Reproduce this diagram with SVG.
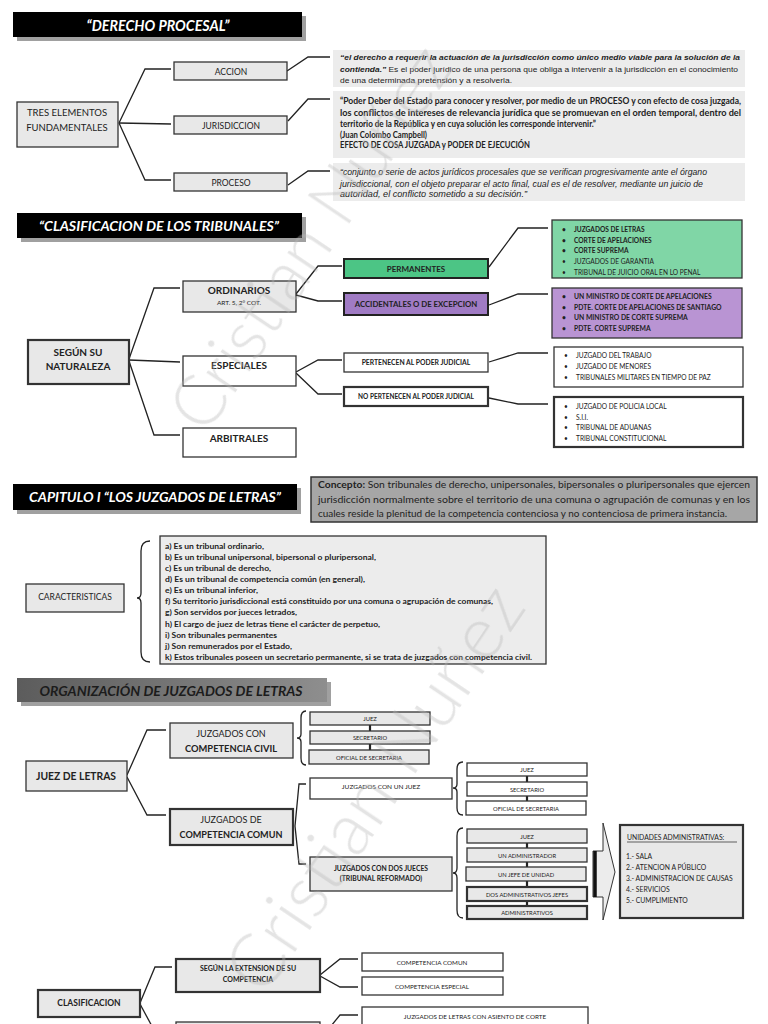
<svg xmlns="http://www.w3.org/2000/svg" width="768" height="1024" viewBox="0 0 768 1024">
<defs>
<style>
.box{fill:#e8e8e8;stroke:#333;stroke-width:1.3}
.boxw{fill:#fff;stroke:#333;stroke-width:1.3}
.thick{stroke-width:2.2}
.note{fill:#ececec;stroke:none}
.sh{fill:#a0a0a0}
.bar{fill:#000}
.t{font-family:Lato,"Open Sans",sans-serif;fill:#222}
.a{font-family:"Liberation Sans",Arial,sans-serif;fill:#222}
.b{font-weight:bold}
.i{font-style:italic}
.c{text-anchor:middle}
.ttl{font-family:Lato,"Open Sans",sans-serif;font-weight:bold;font-style:italic;fill:#fff;text-anchor:middle}
#connectors path{fill:none;stroke:#222;stroke-width:1.3}
#connectors .v{stroke-width:2.2}
</style>
<linearGradient id="g4" x1="0" y1="0" x2="1" y2="0">
<stop offset="0" stop-color="#5c5c5c"/>
<stop offset="1" stop-color="#8e8e8e"/>
</linearGradient>
</defs>
<rect width="768" height="1024" fill="#fff"/>

<!-- titles -->
<g id="title1">
<rect class="sh" x="17" y="16" width="289" height="25"/>
<rect class="bar" x="13" y="12" width="289" height="25"/>
<text class="ttl" x="158" y="30.5" font-size="15" textLength="143" lengthAdjust="spacingAndGlyphs">“DERECHO PROCESAL”</text>
</g>
<g id="title2">
<rect class="sh" x="21" y="217" width="285" height="25"/>
<rect class="bar" x="17" y="213" width="285" height="25"/>
<text class="ttl" x="159" y="231" font-size="14" textLength="240" lengthAdjust="spacingAndGlyphs">“CLASIFICACION DE LOS TRIBUNALES”</text>
</g>
<g id="title3">
<rect class="sh" x="17" y="488" width="284" height="26"/>
<rect class="bar" x="13" y="484" width="284" height="26"/>
<text class="ttl" x="155" y="502" font-size="14" textLength="252" lengthAdjust="spacingAndGlyphs">CAPITULO I “LOS JUZGADOS DE LETRAS”</text>
</g>
<g id="title4">
<rect class="sh" x="21" y="682" width="310" height="24"/>
<rect x="17" y="678" width="310" height="24" fill="url(#g4)"/>
<text class="ttl" x="171" y="696" font-size="14" style="fill:#1c1c1c" textLength="263" lengthAdjust="spacingAndGlyphs">ORGANIZACIÓN DE JUZGADOS DE LETRAS</text>
</g>

<!-- connectors -->
<g id="connectors">
<path d="M119,123 L145,69 L171,69"/>
<path d="M119,123 L171,124"/>
<path d="M119,123 L145,180 L171,180"/>
<path d="M287,71 L308,57 L330,57"/>
<path d="M288,121 L308,99 L330,99"/>
<path d="M288,185 L308,171 L330,171"/>
<path d="M129,359 L154,288 L180,288"/>
<path d="M129,360 L180,362"/>
<path d="M129,361 L154,435 L180,435"/>
<path d="M296,294 L318,266 L342,266"/>
<path d="M296,295 L318,301 L342,301"/>
<path d="M296,372 L318,360 L342,360"/>
<path d="M296,373 L318,394 L342,394"/>
<path d="M489,267 L518,228 L548,228"/>
<path d="M489,305 L518,294 L548,294"/>
<path d="M489,362 L518,353 L548,353"/>
<path d="M489,398 L518,404 L548,404"/>
<path d="M150,541 Q141,541 141,551 L141,593 Q141,598 137,598 Q141,598 141,603 L141,652 Q141,662 150,662"/>
<path d="M127,775 L147,730 L166,730"/>
<path d="M127,777 L147,815 L166,815"/>
<path d="M306,711 Q301,711 301,718 L301,734 Q301,738 297,738 Q301,738 301,742 L301,758 Q301,765 306,765"/>
<path class="v" d="M370,725 L370,731 M370,744 L370,750"/>
<path d="M306,784 L299,784 L295,826 L299,864 L306,864"/>
<path d="M463,762 Q457,762 457,769 L457,784 Q457,788 453,788 Q457,788 457,792 L457,808 Q457,815 463,815"/>
<path d="M463,828 Q457,828 457,836 L457,868 Q457,873 453,873 Q457,873 457,878 L457,910 Q457,918 463,918"/>
<path class="v" d="M527,776 L527,782 M527,796 L527,801"/>
<path class="v" d="M527,843 L527,848 M527,862 L527,867 M527,881 L527,887 M527,901 L527,906"/>
<path d="M140,1003 L155,967 L172,967"/>
<path d="M140,1004 L154,1030"/>
<path d="M320,975 L340,959 L358,959"/>
<path d="M320,976 L340,987 L358,987"/>
<path d="M331,1026 L340,1015 L358,1015"/>
</g>

<!-- section 1 -->
<g id="tres">
<rect class="box" x="17" y="102" width="101" height="45"/>
<text class="t c" x="67" y="116" font-size="9.5">TRES ELEMENTOS</text>
<text class="t c" x="67" y="131" font-size="9.5">FUNDAMENTALES</text>
</g>
<g id="accion">
<rect class="box" x="174" y="62" width="113" height="18"/>
<text class="t c" x="231" y="75" font-size="8.5">ACCION</text>
</g>
<g id="jurisdiccion">
<rect class="box" x="174" y="116" width="113" height="18"/>
<text class="t c" x="231" y="129" font-size="8.5">JURISDICCION</text>
</g>
<g id="proceso">
<rect class="box" x="174" y="173" width="113" height="18"/>
<text class="t c" x="231" y="186" font-size="8.5">PROCESO</text>
</g>
<g id="def-accion">
<rect class="note" x="333" y="50" width="412" height="37"/>
<text class="a i b" x="340" y="60" font-size="8" textLength="400" lengthAdjust="spacingAndGlyphs">“el derecho a requerir la actuación de la jurisdicción como único medio viable para la solución de la</text>
<text class="a" x="340" y="72" font-size="7.8" textLength="398" lengthAdjust="spacingAndGlyphs"><tspan class="i b">contienda.”</tspan> Es el poder jurídico de una persona que obliga a intervenir a la jurisdicción en el conocimiento</text>
<text class="a" x="340" y="83" font-size="7.8" textLength="172" lengthAdjust="spacingAndGlyphs">de una determinada pretensión y a resolverla.</text>
</g>
<g id="def-jurisdiccion">
<rect class="note" x="333" y="91" width="412" height="67"/>
<text class="t b" x="340" y="104" font-size="8.5" textLength="401" lengthAdjust="spacingAndGlyphs">“Poder Deber del Estado para conocer y resolver, por medio de un PROCESO y con efecto de cosa juzgada,</text>
<text class="t b" x="340" y="116" font-size="8.5" textLength="401" lengthAdjust="spacingAndGlyphs">los conflictos de intereses de relevancia jurídica que se promuevan en el orden temporal, dentro del</text>
<text class="t b" x="340" y="127" font-size="8.5" textLength="256" lengthAdjust="spacingAndGlyphs">territorio de la República y en cuya solución les corresponde intervenir.”</text>
<text class="t b" x="340" y="137.5" font-size="8.5" textLength="87" lengthAdjust="spacingAndGlyphs">(Juan Colombo Campbell)</text>
<text class="t b" x="340" y="148" font-size="8.5" textLength="190" lengthAdjust="spacingAndGlyphs">EFECTO DE COSA JUZGADA y  PODER DE EJECUCIÓN</text>
</g>
<g id="def-proceso">
<rect class="note" x="333" y="163" width="412" height="38"/>
<text class="a i" x="340" y="175" font-size="8.5" textLength="367" lengthAdjust="spacingAndGlyphs">“conjunto o serie de actos jurídicos procesales que se verifican progresivamente ante el órgano</text>
<text class="a i" x="340" y="187" font-size="9" fill="#111" textLength="363" lengthAdjust="spacingAndGlyphs">jurisdiccional, con el objeto preparar el acto final, cual es el de resolver, mediante un juicio de</text>
<text class="a i" x="340" y="197" font-size="8.5" textLength="187" lengthAdjust="spacingAndGlyphs">autoridad, el conflicto sometido a su decisión.”</text>
</g>

<!-- section 2 -->
<g id="naturaleza">
<rect class="box thick" x="28" y="340" width="101" height="44"/>
<text class="t b c" x="78" y="356" font-size="10">SEGÚN SU</text>
<text class="t b c" x="78" y="370" font-size="10">NATURALEZA</text>
</g>
<g id="ordinarios">
<rect class="box" x="183" y="281" width="113" height="31"/>
<text class="t b c" x="239" y="294" font-size="10">ORDINARIOS</text>
<text class="t c" x="239" y="305" font-size="6.5">ART. 5, 2° COT.</text>
</g>
<g id="especiales">
<rect class="boxw" x="183" y="356" width="113" height="30"/>
<text class="t b c" x="239" y="369" font-size="10">ESPECIALES</text>
</g>
<g id="arbitrales">
<rect class="boxw" x="183" y="428" width="113" height="29"/>
<text class="t b c" x="239" y="442" font-size="10">ARBITRALES</text>
</g>
<g id="permanentes">
<rect x="344" y="259" width="144" height="19" fill="#4cc585" stroke="#222" stroke-width="2"/>
<text class="t b c" x="416" y="272" font-size="8">PERMANENTES</text>
</g>
<g id="accidentales">
<rect x="344" y="293" width="144" height="22" fill="#a07bc4" stroke="#222" stroke-width="2"/>
<text class="t b c" x="416" y="307" font-size="7.8">ACCIDENTALES O DE EXCEPCION</text>
</g>
<g id="pertenecen">
<rect class="boxw" x="344" y="353" width="144" height="19"/>
<text class="t b c" x="416" y="365" font-size="6.8">PERTENECEN AL PODER JUDICIAL</text>
</g>
<g id="no-pertenecen">
<rect class="boxw thick" x="344" y="387" width="144" height="19"/>
<text class="t b c" x="416" y="399" font-size="6.5">NO PERTENECEN AL PODER JUDICIAL</text>
</g>
<g id="list-permanentes" font-size="6.6">
<rect x="552" y="220" width="190" height="58" fill="#80d6a6" stroke="#333" stroke-width="1.3"/>
<text class="t b" y="232"><tspan x="562">•</tspan><tspan x="574">JUZGADOS DE LETRAS</tspan></text>
<text class="t b" y="242.5"><tspan x="562">•</tspan><tspan x="574">CORTE DE APELACIONES</tspan></text>
<text class="t b" y="253"><tspan x="562">•</tspan><tspan x="574">CORTE SUPREMA</tspan></text>
<text class="t" y="264"><tspan x="562">•</tspan><tspan x="574">JUZGADOS DE GARANTIA</tspan></text>
<text class="t" y="274.5"><tspan x="562">•</tspan><tspan x="574">TRIBUNAL DE JUICIO ORAL EN LO PENAL</tspan></text>
</g>
<g id="list-accidentales" font-size="6.8">
<rect x="552" y="288" width="190" height="50" fill="#b994d3" stroke="#333" stroke-width="1.3"/>
<text class="t b" y="299"><tspan x="562">•</tspan><tspan x="574">UN MINISTRO DE CORTE DE APELACIONES</tspan></text>
<text class="t b" y="309.5"><tspan x="562">•</tspan><tspan x="574">PDTE. CORTE DE APELACIONES DE SANTIAGO</tspan></text>
<text class="t b" y="320"><tspan x="562">•</tspan><tspan x="574">UN MINISTRO DE CORTE SUPREMA</tspan></text>
<text class="t b" y="330.5"><tspan x="562">•</tspan><tspan x="574">PDTE. CORTE SUPREMA</tspan></text>
</g>
<g id="list-pertenecen" font-size="6.6">
<rect class="boxw" x="554" y="347" width="189" height="40"/>
<text class="t" y="357.5"><tspan x="564">•</tspan><tspan x="576">JUZGADO DEL TRABAJO</tspan></text>
<text class="t" y="368.5"><tspan x="564">•</tspan><tspan x="576">JUZGADO DE MENORES</tspan></text>
<text class="t" y="379.5"><tspan x="564">•</tspan><tspan x="576">TRIBUNALES MILITARES EN TIEMPO DE PAZ</tspan></text>
</g>
<g id="list-no-pertenecen" font-size="6.6">
<rect class="boxw thick" x="554" y="397" width="189" height="50"/>
<text class="t" y="409"><tspan x="564">•</tspan><tspan x="576">JUZGADO DE POLICIA LOCAL</tspan></text>
<text class="t" y="419.5"><tspan x="564">•</tspan><tspan x="576">S.I.I.</tspan></text>
<text class="t" y="430"><tspan x="564">•</tspan><tspan x="576">TRIBUNAL DE ADUANAS</tspan></text>
<text class="t" y="440.5"><tspan x="564">•</tspan><tspan x="576">TRIBUNAL CONSTITUCIONAL</tspan></text>
</g>

<!-- section 3 -->
<g id="concepto">
<rect x="311" y="477" width="446" height="45" fill="#a6a6a6" stroke="#333" stroke-width="1.5"/>
<text class="t" x="318" y="488" font-size="9.5" fill="#111" textLength="432" lengthAdjust="spacingAndGlyphs"><tspan class="b">Concepto:</tspan> Son tribunales de derecho, unipersonales, bipersonales o pluripersonales que ejercen</text>
<text class="t" x="318" y="503" font-size="9.5" fill="#111" textLength="432" lengthAdjust="spacingAndGlyphs">jurisdicción normalmente sobre el territorio de una comuna o agrupación de comunas y en los</text>
<text class="t" x="318" y="517" font-size="9.5" fill="#111" textLength="409" lengthAdjust="spacingAndGlyphs">cuales reside la plenitud de la competencia contenciosa y no contenciosa de primera instancia.</text>
</g>
<g id="caracteristicas">
<rect class="box" x="26" y="584" width="98" height="28"/>
<text class="t c" x="75" y="600" font-size="8.5">CARACTERISTICAS</text>
</g>
<g id="lista-caracteristicas" font-size="7.4">
<rect class="box" x="160" y="536" width="386" height="128" style="fill:#ececec"/>
<text class="t b" x="165" y="549" textLength="99" lengthAdjust="spacingAndGlyphs">a) Es un tribunal ordinario,</text>
<text class="t b" x="165" y="560" textLength="211" lengthAdjust="spacingAndGlyphs">b) Es un tribunal unipersonal, bipersonal o pluripersonal,</text>
<text class="t b" x="165" y="571" textLength="106" lengthAdjust="spacingAndGlyphs">c) Es un tribunal de derecho,</text>
<text class="t b" x="165" y="582" textLength="200" lengthAdjust="spacingAndGlyphs">d) Es un tribunal de competencia común (en general),</text>
<text class="t b" x="165" y="593" textLength="93" lengthAdjust="spacingAndGlyphs">e) Es un tribunal inferior,</text>
<text class="t b" x="165" y="604" textLength="328" lengthAdjust="spacingAndGlyphs">f) Su territorio jurisdiccional está constituido por una comuna o agrupación de comunas,</text>
<text class="t b" x="165" y="615" textLength="132" lengthAdjust="spacingAndGlyphs">g) Son servidos por jueces letrados,</text>
<text class="t b" x="165" y="627" textLength="215" lengthAdjust="spacingAndGlyphs">h) El cargo de juez de letras tiene el carácter de perpetuo,</text>
<text class="t b" x="165" y="638" textLength="112" lengthAdjust="spacingAndGlyphs">i) Son tribunales permanentes</text>
<text class="t b" x="165" y="649" textLength="127" lengthAdjust="spacingAndGlyphs">j) Son remunerados por el Estado,</text>
<text class="t b" x="165" y="660" textLength="367" lengthAdjust="spacingAndGlyphs">k) Estos tribunales poseen un secretario permanente, si se trata de juzgados con competencia civil.</text>
</g>

<!-- section 4 -->
<g id="juez-letras">
<rect class="box" x="26" y="761" width="101" height="30"/>
<text class="t b c" x="76" y="780" font-size="11" textLength="80" lengthAdjust="spacingAndGlyphs">JUEZ DE LETRAS</text>
</g>
<g id="civil">
<rect class="box" x="170" y="723" width="123" height="35"/>
<text class="t c" x="231" y="737" font-size="9">JUZGADOS CON</text>
<text class="t b c" x="231" y="752" font-size="9" textLength="92" lengthAdjust="spacingAndGlyphs">COMPETENCIA CIVIL</text>
</g>
<g id="comun">
<rect class="box thick" x="170" y="809" width="123" height="36"/>
<text class="t c" x="231" y="823" font-size="9">JUZGADOS DE</text>
<text class="t b c" x="231" y="838" font-size="9" textLength="103" lengthAdjust="spacingAndGlyphs">COMPETENCIA COMUN</text>
</g>
<g id="civil-juez">
<rect class="box" x="310" y="712" width="120" height="13"/>
<text class="t c" x="370" y="721" font-size="5.8">JUEZ</text>
</g>
<g id="civil-secretario">
<rect class="box" x="310" y="731" width="120" height="13"/>
<text class="t c" x="370" y="740" font-size="5.8">SECRETARIO</text>
</g>
<g id="civil-oficial">
<rect class="box" x="309" y="750" width="120" height="14"/>
<text class="t c" x="369" y="759.5" font-size="5.8">OFICIAL DE SECRETARIA</text>
</g>
<g id="un-juez">
<rect class="boxw" x="310" y="778" width="142" height="21"/>
<text class="t c" x="381" y="789" font-size="6.5">JUZGADOS CON UN JUEZ</text>
</g>
<g id="dos-jueces">
<rect class="box" x="310" y="857" width="142" height="34"/>
<text class="t b c" x="381" y="871" font-size="6.8">JUZGADOS CON DOS JUECES</text>
<text class="t b c" x="381" y="881" font-size="6.8">(TRIBUNAL REFORMADO)</text>
</g>
<g id="uj-juez">
<rect class="boxw" x="467" y="763" width="120" height="13"/>
<text class="t c" x="527" y="772" font-size="5.8">JUEZ</text>
</g>
<g id="uj-secretario">
<rect class="boxw" x="467" y="782" width="120" height="14"/>
<text class="t c" x="527" y="791.5" font-size="5.8">SECRETARIO</text>
</g>
<g id="uj-oficial">
<rect class="boxw" x="466" y="801" width="120" height="14"/>
<text class="t c" x="526" y="810.5" font-size="5.8">OFICIAL DE SECRETARIA</text>
</g>
<g id="dj-juez">
<rect class="box" x="467" y="829" width="120" height="14"/>
<text class="t c" x="527" y="838.5" font-size="5.8">JUEZ</text>
</g>
<g id="dj-admin">
<rect class="box" x="467" y="848" width="120" height="14"/>
<text class="t c" x="527" y="857.5" font-size="5.8">UN ADMINISTRADOR</text>
</g>
<g id="dj-jefe">
<rect class="box" x="466" y="867" width="120" height="14"/>
<text class="t c" x="526" y="876.5" font-size="5.8">UN JEFE DE UNIDAD</text>
</g>
<g id="dj-dos">
<rect class="box thick" x="467" y="887" width="120" height="14"/>
<text class="t c" x="527" y="896.5" font-size="5.8">DOS ADMINISTRATIVOS JEFES</text>
</g>
<g id="dj-administrativos">
<rect class="box thick" x="467" y="906" width="120" height="13"/>
<text class="t c" x="527" y="915" font-size="5.8">ADMINISTRATIVOS</text>
</g>
<g id="arrow">
<path d="M593,851 L603,851 L603,823 L615,872 L603,920 L603,897 L593,897 Z" fill="#ececec" stroke="#333" stroke-width="1"/>
<path d="M595,851 L595,897" stroke="#111" stroke-width="3.5" fill="none"/>
</g>
<g id="unidades" font-size="6.8">
<rect class="box thick" x="620" y="825" width="123" height="93"/>
<text class="t" x="627" y="840">UNIDADES ADMINISTRATIVAS:</text>
<path d="M627,842 L737,842" stroke="#222" stroke-width="0.7" fill="none"/>
<text class="t" x="626" y="859">1.- SALA</text>
<text class="t" x="626" y="870">2.- ATENCION A PÚBLICO</text>
<text class="t" x="626" y="881">3.- ADMINISTRACION DE CAUSAS</text>
<text class="t" x="626" y="892">4.- SERVICIOS</text>
<text class="t" x="626" y="903">5.- CUMPLIMIENTO</text>
</g>

<!-- section 5 -->
<g id="clasificacion">
<rect class="box thick" x="38" y="990" width="102" height="27"/>
<text class="t b c" x="89" y="1006" font-size="8.5">CLASIFICACION</text>
</g>
<g id="extension">
<rect class="box thick" x="176" y="959" width="144" height="33"/>
<text class="t b c" x="248" y="971" font-size="7">SEGÚN LA EXTENSION DE SU</text>
<text class="t b c" x="248" y="982" font-size="7">COMPETENCIA</text>
</g>
<g id="bottom-box">
<rect class="box" x="176" y="1022" width="144" height="30" stroke="#111" stroke-width="3"/>
</g>
<g id="comp-comun">
<rect class="boxw" x="362" y="953" width="141" height="18"/>
<text class="t c" x="432" y="965" font-size="6.3">COMPETENCIA COMUN</text>
</g>
<g id="comp-especial">
<rect class="boxw" x="362" y="977" width="141" height="18"/>
<text class="t c" x="432" y="989" font-size="6.3">COMPETENCIA ESPECIAL</text>
</g>
<g id="asiento">
<rect class="boxw" x="362" y="1007" width="226" height="30"/>
<text class="t c" x="475" y="1019" font-size="6.3">JUZGADOS DE LETRAS CON ASIENTO DE CORTE</text>
</g>

<!-- watermark -->
<g id="watermark" font-family="Lato, sans-serif" font-weight="300" fill="#b8b8b8" opacity="0.38">
<text transform="translate(206,436) rotate(-56)" font-size="70">Cristian Nuñez</text>
<text transform="translate(264,998) rotate(-56)" font-size="74">Cristian Nuñez</text>
</g>
</svg>
